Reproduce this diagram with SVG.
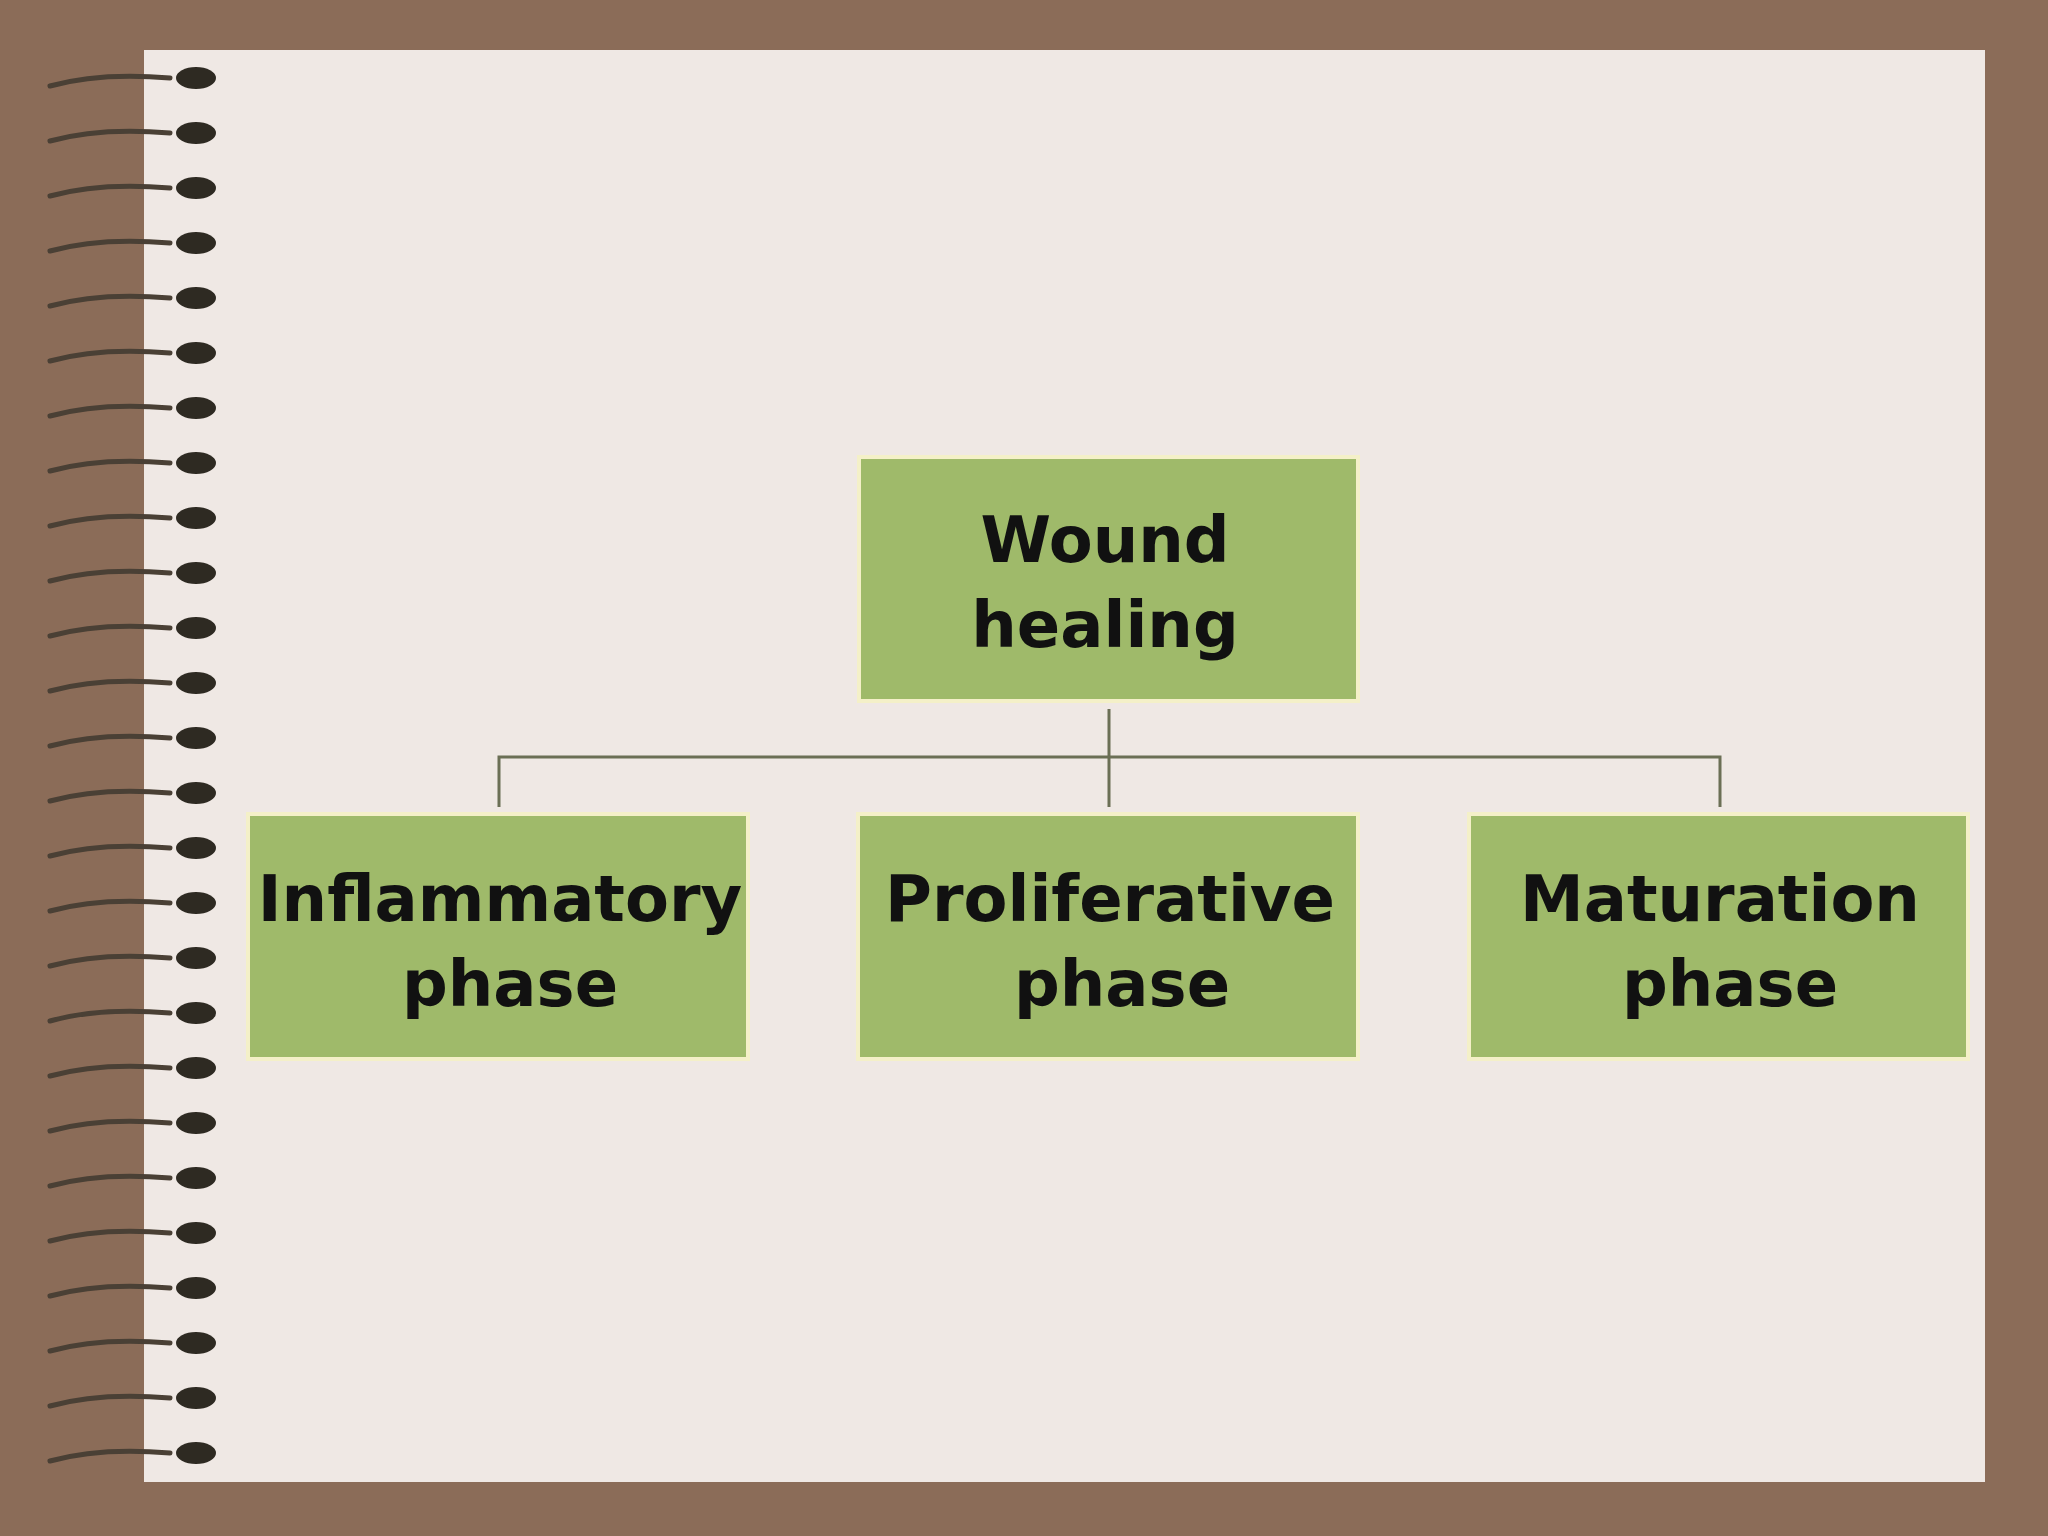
<svg xmlns="http://www.w3.org/2000/svg" width="2048" height="1536" viewBox="0 0 2048 1536">
<defs>
<style>
.box{fill:#9fba6a;stroke:#f4f0c8;stroke-width:4}
.t{font-family:"DejaVu Sans",Verdana,sans-serif;font-weight:bold;font-size:64px;fill:#111;text-anchor:middle}
.c{fill:none;stroke:#6b6f55;stroke-width:3}
.ring{fill:#2e2a22}
.wire{stroke:#4a4035;stroke-width:5;fill:none;stroke-linecap:round}
</style>
<g id="ringdef"><path class="wire" d="M50,8 Q100,-6 170,0"/><ellipse class="ring" cx="196" cy="0" rx="20" ry="11"/></g>
</defs>
<rect width="2048" height="1536" fill="#8b6c58"/>
<rect x="144" y="50" width="1841" height="1432" fill="#efe8e4"/>
<g id="binding">
<use href="#ringdef" y="78"/><use href="#ringdef" y="133"/><use href="#ringdef" y="188"/><use href="#ringdef" y="243"/><use href="#ringdef" y="298"/><use href="#ringdef" y="353"/><use href="#ringdef" y="408"/><use href="#ringdef" y="463"/><use href="#ringdef" y="518"/><use href="#ringdef" y="573"/><use href="#ringdef" y="628"/><use href="#ringdef" y="683"/><use href="#ringdef" y="738"/><use href="#ringdef" y="793"/><use href="#ringdef" y="848"/><use href="#ringdef" y="903"/><use href="#ringdef" y="958"/><use href="#ringdef" y="1013"/><use href="#ringdef" y="1068"/><use href="#ringdef" y="1123"/><use href="#ringdef" y="1178"/><use href="#ringdef" y="1233"/><use href="#ringdef" y="1288"/><use href="#ringdef" y="1343"/><use href="#ringdef" y="1398"/><use href="#ringdef" y="1453"/>
</g>
<g id="connectors">
<path class="c" d="M1109,709 V807"/>
<path class="c" d="M499,807 V757 H1720 V807"/>
</g>
<g id="root"><rect class="box" x="859" y="457" width="499" height="244"/><text class="t" x="1105" y="562">Wound</text><text class="t" x="1105" y="647">healing</text></g>
<g id="inflammatory"><rect class="box" x="248" y="814" width="500" height="245"/><text class="t" x="500" y="921">Inflammatory</text><text class="t" x="510" y="1006">phase</text></g>
<g id="proliferative"><rect class="box" x="858" y="814" width="500" height="245"/><text class="t" x="1110" y="921">Proliferative</text><text class="t" x="1122" y="1006">phase</text></g>
<g id="maturation"><rect class="box" x="1469" y="814" width="499" height="245"/><text class="t" x="1720" y="921">Maturation</text><text class="t" x="1730" y="1006">phase</text></g>
</svg>
